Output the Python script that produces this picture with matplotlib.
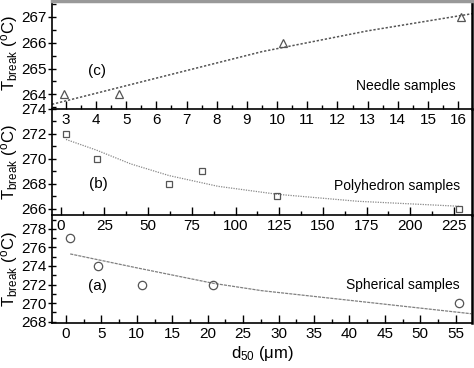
import matplotlib
matplotlib.use("Agg")
import matplotlib.pyplot as plt
from matplotlib.ticker import MultipleLocator

plt.rcParams['font.family'] = ['Liberation Sans', 'DejaVu Sans']
plt.rcParams['mathtext.fontset'] = 'custom'
plt.rcParams['mathtext.rm'] = 'Liberation Sans'
plt.rcParams['mathtext.it'] = 'Liberation Sans:italic'

# (c) needle samples
needle_d = [2.95, 4.75, 10.2, 16.1]
needle_t = [264, 264, 266, 267]
needle_fit_d = [2.54, 6.0, 9.5, 13.0, 16.46]
needle_fit_t = [263.62, 264.63, 265.65, 266.45, 267.11]

# (b) polyhedron samples
poly_d = [3, 20.5, 62, 81, 124, 228]
poly_t = [272, 270, 268, 269, 267, 266]
poly_fit_d = [3, 20.5, 40, 62, 90, 124, 170, 228]
poly_fit_t = [271.56, 270.7, 269.6, 268.66, 267.8, 267.16, 266.6, 266.2]

# (a) spherical samples
sph_d = [0.55, 4.5, 10.8, 20.8, 55.5]
sph_t = [277, 274, 272, 272, 270]
sph_fit_d = [0.6, 10, 20.8, 27.6, 40, 57.2]
sph_fit_t = [275.3, 273.8, 272.13, 271.34, 270.3, 268.85]

ylab = r'T$_{\rm break}$ ($^{\rm o}$C)'

fig = plt.figure(figsize=(4.74, 3.68), dpi=100)
W, H = 474.0, 368.0
L, R = 52 / W, 472 / W
ax_c = fig.add_axes([L, 1 - 109 / H, R - L, 108 / H])
ax_b = fig.add_axes([L, 1 - 215 / H, R - L, 106 / H])
ax_a = fig.add_axes([L, 1 - 323 / H, R - L, 108 / H])

mk = dict(linestyle='none', markerfacecolor='none', markeredgecolor='#555555',
          markeredgewidth=0.9)

ax_c.plot(needle_fit_d, needle_fit_t, color='#555555', lw=1.1, ls=(0, (1.5, 1.2)))
ax_c.plot(needle_d, needle_t, marker='^', markersize=6, **mk)
ax_c.set_xlim(2.54, 16.46)
ax_c.set_ylim(263.44, 267.6)
ax_c.set_yticks([264, 265, 266, 267])
ax_c.xaxis.set_major_locator(MultipleLocator(1))
ax_c.xaxis.set_minor_locator(MultipleLocator(0.5))
ax_c.yaxis.set_minor_locator(MultipleLocator(0.5))

ax_b.plot(poly_fit_d, poly_fit_t, color='#888888', lw=0.9, ls=(0, (1, 1)))
ax_b.plot(poly_d, poly_t, marker='s', markersize=5, **mk)
ax_b.set_xlim(-5, 235.3)
ax_b.set_ylim(265.5, 274)
ax_b.set_yticks([266, 268, 270, 272, 274])
ax_b.xaxis.set_major_locator(MultipleLocator(25))
ax_b.xaxis.set_minor_locator(MultipleLocator(12.5))
ax_b.yaxis.set_minor_locator(MultipleLocator(1))

ax_a.plot(sph_fit_d, sph_fit_t, color='#808080', lw=0.9, ls=(0, (2.5, 0.8)))
ax_a.plot(sph_d, sph_t, marker='o', markersize=6, **mk)
ax_a.set_xlim(-1.97, 57.3)
ax_a.set_ylim(267.85, 279.5)
ax_a.set_yticks([268, 270, 272, 274, 276, 278])
ax_a.xaxis.set_major_locator(MultipleLocator(5))
ax_a.xaxis.set_minor_locator(MultipleLocator(2.5))
ax_a.yaxis.set_minor_locator(MultipleLocator(1))
ax_a.set_xlabel(r'd$_{50}$ (μm)', fontsize=12, labelpad=2)

for ax in (ax_a, ax_b, ax_c):
    ax.patch.set_visible(False)
    ax.tick_params(axis='x', which='major', direction='in', length=6, width=1,
                   labelsize=11, pad=3)
    ax.tick_params(axis='x', which='minor', direction='in', length=3, width=1)
    ax.tick_params(axis='y', which='major', direction='inout', length=6, width=1,
                   labelsize=11, pad=1)
    ax.tick_params(axis='y', which='minor', direction='in', length=3, width=1)
    ax.spines['left'].set_linewidth(1.2)
    ax.spines['bottom'].set_linewidth(1.2)
    ax.spines['right'].set_linewidth(1.8)
    ax.spines['top'].set_visible(False)
    ax.set_ylabel(ylab, fontsize=12)
    ax.yaxis.set_label_coords(-0.075, 0.5)

ax_c.spines['top'].set_visible(True)
ax_c.spines['top'].set_color('#999999')
ax_c.spines['top'].set_linewidth(2.5)
ax_c.yaxis.set_label_coords(-0.075, 0.52)

ax_c.text(0.107, 0.352, '(c)', transform=ax_c.transAxes, fontsize=11,
          ha='center', va='center')
ax_c.text(0.960, 0.213, 'Needle samples', transform=ax_c.transAxes,
          fontsize=10, ha='right', va='center')
ax_b.text(0.110, 0.29, '(b)', transform=ax_b.transAxes, fontsize=11,
          ha='center', va='center')
ax_b.text(0.971, 0.27, 'Polyhedron samples', transform=ax_b.transAxes,
          fontsize=10, ha='right', va='center')
ax_a.text(0.107, 0.343, '(a)', transform=ax_a.transAxes, fontsize=11,
          ha='center', va='center')
ax_a.text(0.971, 0.352, 'Spherical samples', transform=ax_a.transAxes,
          fontsize=10, ha='right', va='center')

fig.savefig('out.png', dpi=100, facecolor='white')
